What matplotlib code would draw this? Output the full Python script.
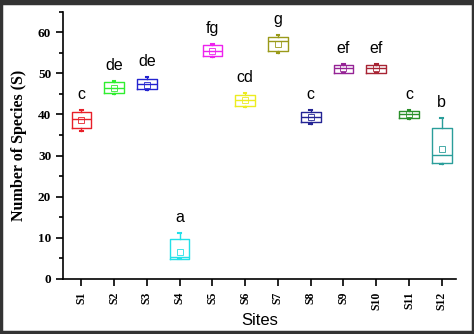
import matplotlib
matplotlib.use("Agg")
import matplotlib.pyplot as plt
from matplotlib.patches import Rectangle

sites = ["S1", "S2", "S3", "S4", "S5", "S6", "S7", "S8", "S9", "S10", "S11", "S12"]
whislo = [36.0, 45.0, 46.0, 5.0, 54.0, 41.7, 55.0, 37.8, 50.0, 50.0, 38.8, 28.0]
q1     = [36.6, 45.3, 46.2, 4.9, 54.2, 42.0, 55.4, 38.2, 50.2, 50.2, 39.1, 28.3]
med    = [39.0, 46.5, 47.5, 5.4, 55.5, 43.5, 57.8, 39.5, 51.2, 51.2, 40.2, 30.1]
q3     = [40.6, 47.8, 48.7, 9.7, 56.9, 44.8, 58.9, 40.6, 52.0, 52.0, 40.9, 36.8]
whishi = [41.0, 48.1, 49.0, 11.1, 57.2, 45.1, 59.3, 41.0, 52.2, 52.2, 41.0, 39.1]
means  = [38.6, 46.5, 47.2, 6.6, 55.5, 43.5, 57.2, 39.5, 51.2, 51.2, 40.0, 31.6]
letters = ["c", "de", "de", "a", "fg", "cd", "g", "c", "ef", "ef", "c", "b"]
colors = ["#e8202a", "#30ee30", "#2424d0", "#22e0e8", "#ee22ee", "#ecec20",
          "#9a9a1a", "#242494", "#962496", "#a82434", "#2a902a", "#2a9e9a"]

fig = plt.figure(figsize=(4.74, 3.34), dpi=100)
ax = fig.add_axes([0.133, 0.165, 0.83, 0.80])

stats = []
for i in range(len(sites)):
    stats.append(dict(whislo=min(whislo[i], q1[i]), q1=q1[i], med=med[i], q3=q3[i],
                      whishi=whishi[i], mean=means[i], fliers=[]))

positions = list(range(1, len(sites) + 1))
for i, st in enumerate(stats):
    c = colors[i]
    ax.bxp([st], positions=[positions[i]], widths=0.6, showmeans=True,
           showfliers=False,
           boxprops=dict(color=c, linewidth=1.0),
           medianprops=dict(color=c, linewidth=1.0),
           whiskerprops=dict(color=c, linewidth=1.0),
           capprops=dict(color=c, linewidth=1.5),
           capwidths=0.08,
           meanprops=dict(marker="s", markersize=4, markerfacecolor="none",
                          markeredgecolor=c, markeredgewidth=0.6))
    ax.text(positions[i], whishi[i] + 2.0, letters[i], ha="center", va="bottom",
            fontsize=11.5, family="Liberation Sans", color="black")

ax.set_xlim(0.44, 12.45)
ax.set_ylim(0, 65)
ax.set_xticks(positions)
ax.set_xticklabels(sites, rotation=90, family="Liberation Serif", fontweight="bold",
                   fontsize=8.5)
ax.set_yticks([0, 10, 20, 30, 40, 50, 60])
ax.set_yticks([5, 15, 25, 35, 45, 55, 65], minor=True)
for lab in ax.get_yticklabels():
    lab.set_family("Liberation Serif")
    lab.set_fontweight("bold")
    lab.set_fontsize(9.5)
ax.spines["top"].set_visible(False)
ax.spines["right"].set_visible(False)
for s in ("left", "bottom"):
    ax.spines[s].set_linewidth(1.2)
ax.tick_params(axis="both", which="major", direction="out", length=5, width=1.2)
ax.tick_params(axis="x", which="major", pad=4)
ax.tick_params(axis="y", which="minor", direction="out", length=3, width=1.2)
ax.set_ylabel("Number of Species (S)", family="Liberation Serif", fontweight="bold",
              fontsize=11.5, labelpad=8)
ax.set_xlabel("Sites", family="Liberation Sans", fontsize=12, labelpad=2)

fig.patches.append(Rectangle((0.003, 0.006), 0.994, 0.985, transform=fig.transFigure,
                             fill=False, edgecolor="#333333", linewidth=2.5))
fig.patches.append(Rectangle((0.0, 0.985), 1.0, 0.015, transform=fig.transFigure,
                             fill=True, facecolor="#333333", edgecolor="none"))

fig.savefig("out.png", dpi=100)
